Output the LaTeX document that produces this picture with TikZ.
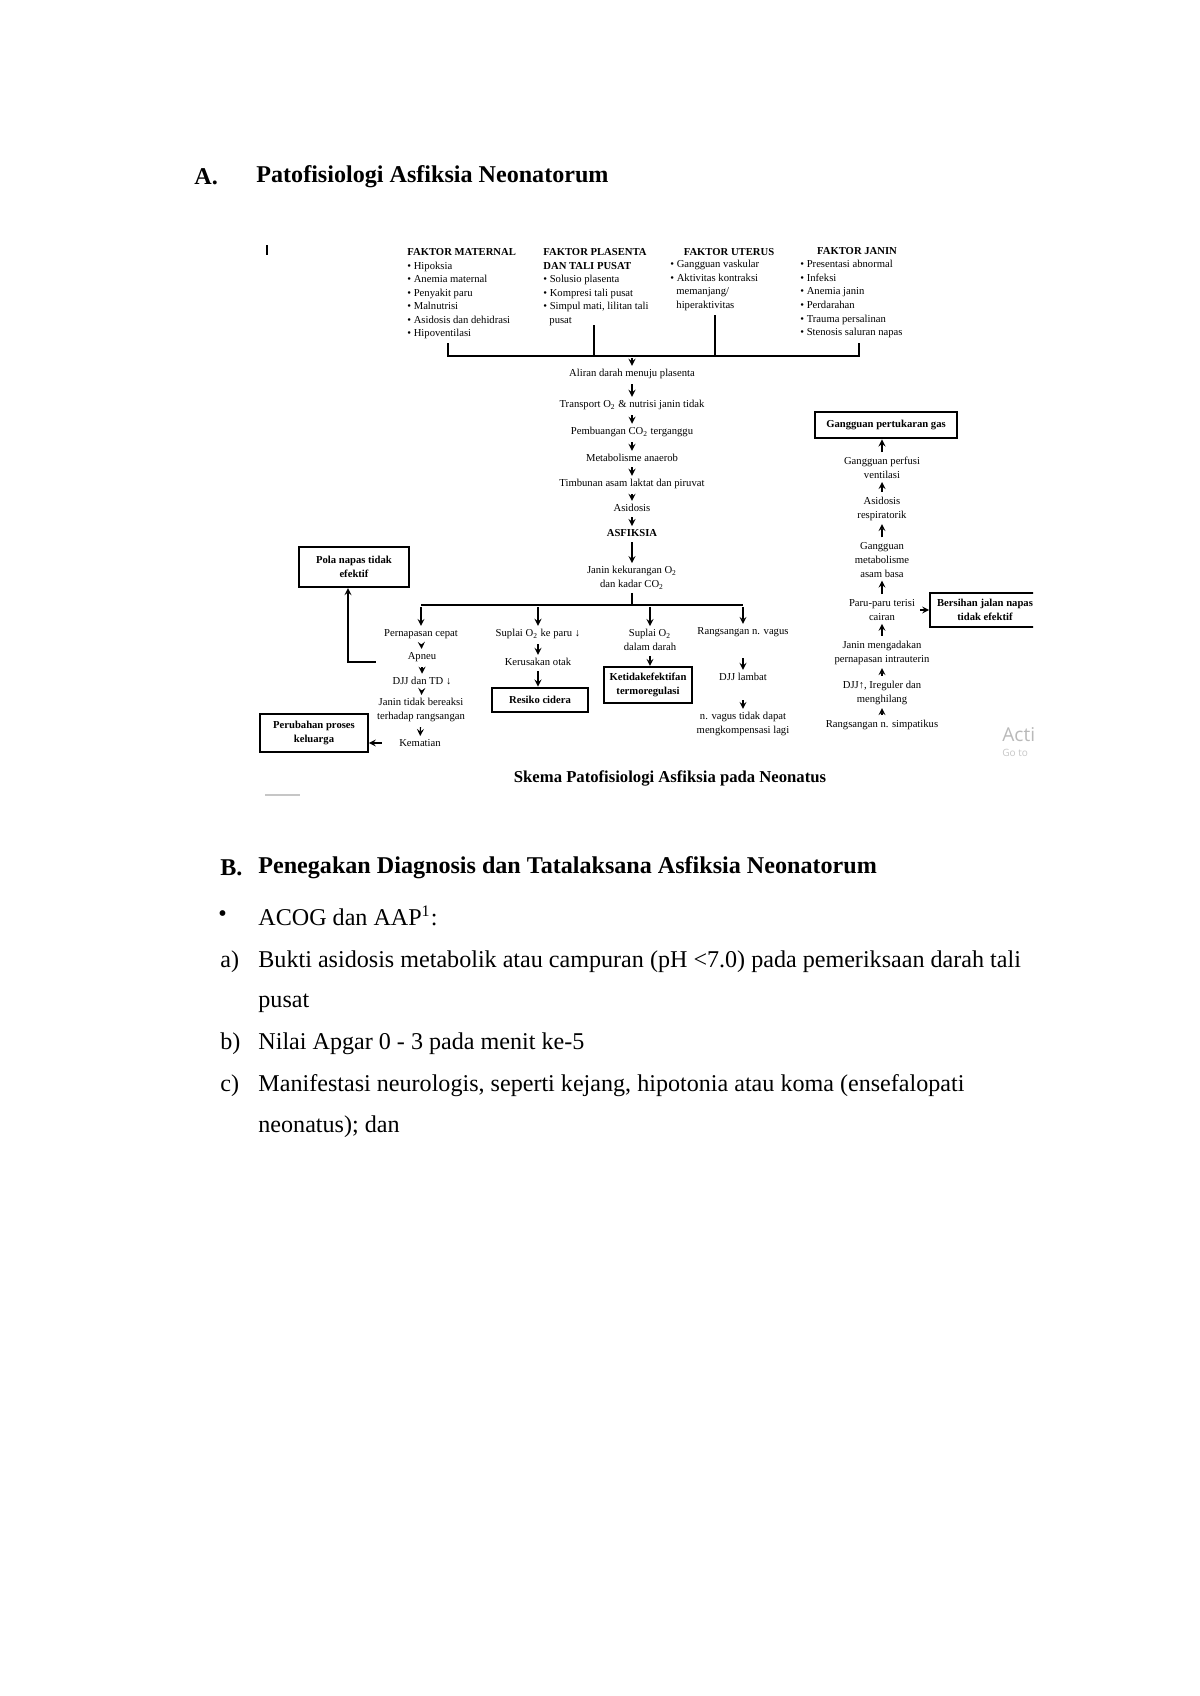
\documentclass[tikz,border=0pt]{standalone}
\usepackage{fontspec}
\setmainfont{Liberation Serif}
\newfontfamily\wmfont{Open Sans}
\usetikzlibrary{arrows,positioning}
\newcommand{\diagfont}{\fontsize{5.3}{6.75}\selectfont}
\newcommand{\bodyfont}{\fontsize{12}{14}\selectfont}
\tikzstyle{flow} = [->,>=stealth,line width=0.55pt,shorten <=1pt]
\tikzstyle{wire} = [line width=0.7pt]
\tikzstyle{txt} = [align=center, font=\diagfont, inner sep=1.5pt]
\tikzstyle{faktor} = [align=left, font=\diagfont, inner sep=0pt, anchor=north west]
\tikzstyle{ketbox} = [rectangle, draw, line width=1pt, align=center, font=\diagfont\bfseries, inner sep=2pt]
\tikzstyle{body} = [anchor=west, inner sep=0pt, font=\bodyfont]

\begin{document}
\begin{tikzpicture}[x=0.175mm, y=-0.175mm]
\useasboundingbox (0,0) rectangle (1200,1696);

% judul bagian A
\node[body, font=\bodyfont\bfseries] (secA) at (194,177) {A.};
\node[body, font=\bodyfont\bfseries] (titleA) at (256,177) {Patofisiologi Asfiksia Neonatorum};

% tanda kecil di pojok
\draw[line width=1.1pt] (267,245) -- (267,255);

% faktor penyebab
\node[faktor] (maternal) at (407,248) {\textbf{FAKTOR MATERNAL}\\
  \textbullet{} Hipoksia\\ \textbullet{} Anemia maternal\\ \textbullet{} Penyakit paru\\
  \textbullet{} Malnutrisi\\ \textbullet{} Asidosis dan dehidrasi\\ \textbullet{} Hipoventilasi};
\node[faktor] (plasenta) at (543,248) {\textbf{FAKTOR PLASENTA}\\ \textbf{DAN TALI PUSAT}\\
  \textbullet{} Solusio plasenta\\ \textbullet{} Kompresi tali pusat\\
  \textbullet{} Simpul mati, lilitan tali\\ \hspace*{3pt}pusat};
\node[txt, font=\diagfont\bfseries] (uterushead) at (729,252) {FAKTOR UTERUS};
\node[faktor] (uterus) at (670,260) {\textbullet{} Gangguan vaskular\\ \textbullet{} Aktivitas kontraksi\\
  \hspace*{3pt}memanjang/\\ \hspace*{3pt}hiperaktivitas};
\node[txt, font=\diagfont\bfseries] (janinhead) at (857,251) {FAKTOR JANIN};
\node[faktor] (janin) at (800,260) {\textbullet{} Presentasi abnormal\\ \textbullet{} Infeksi\\
  \textbullet{} Anemia janin\\ \textbullet{} Perdarahan\\ \textbullet{} Trauma persalinan\\
  \textbullet{} Stenosis saluran napas};

% penggabung faktor
\coordinate (m1) at (448,343);
\coordinate (p1) at (594,325);
\coordinate (u1) at (715,315);
\coordinate (j1) at (859,343);
\coordinate (bus) at (632,356);
\draw[wire] (m1) |- (bus) -| (j1);
\draw[wire] (p1) -- (p1 |- bus);
\draw[wire] (u1) -- (u1 |- bus);

% alur utama
\node[txt] (aliran) at (632,374) {Aliran darah menuju plasenta};
\node[txt] (transport) at (632,405) {Transport O\textsubscript{2} \& nutrisi janin tidak};
\node[txt] (pembuangan) at (632,432) {Pembuangan CO\textsubscript{2} terganggu};
\node[txt] (anaerob) at (632,458) {Metabolisme anaerob};
\node[txt] (timbunan) at (632,484) {Timbunan asam laktat dan piruvat};
\node[txt] (asidosis) at (632,508) {Asidosis};
\node[txt, font=\diagfont\bfseries] (asfiksia) at (632,533) {ASFIKSIA};
\node[txt] (kurang) at (632,578) {Janin kekurangan O\textsubscript{2}\\dan kadar CO\textsubscript{2}};

\draw[flow] (bus) -- (aliran);
\draw[flow] (aliran) -- (transport);
\draw[flow] (transport) -- (pembuangan);
\draw[flow] (pembuangan) -- (anaerob);
\draw[flow] (anaerob) -- (timbunan);
\draw[flow] (timbunan) -- (asidosis);
\draw[flow] (asidosis) -- (asfiksia);
\draw[flow] (asfiksia) -- (kurang);

% cabang
\node[txt] (cepat) at (421,634) {Pernapasan cepat};
\node[txt] (suplaiparu) at (538,634) {Suplai O\textsubscript{2} ke paru ↓};
\node[txt] (suplaidarah) at (650,640) {Suplai O\textsubscript{2}\\dalam darah};
\node[txt] (vagus) at (743,632) {Rangsangan n. vagus};

\coordinate (split) at (632,605);
\draw[wire] (kurang) -- (split);
\draw[wire] (cepat |- split) -- (vagus |- split);
\foreach \n in {cepat,suplaiparu,suplaidarah,vagus}
  \draw[flow] (\n |- split) -- (\n);

% cabang kiri
\node[txt] (apneu) at (422,657) {Apneu};
\node[txt] (djjtd) at (422,681) {DJJ dan TD ↓};
\node[txt] (bereaksi) at (421,710) {Janin tidak bereaksi\\terhadap rangsangan};
\node[txt] (kematian) at (420,743) {Kematian};
\node[ketbox, minimum width=55pt, minimum height=20pt] (pola) at (354,567) {Pola napas tidak\\efektif};
\node[ketbox, minimum width=53.6pt, minimum height=18.8pt] (keluarga) at (314,733) {Perubahan proses\\keluarga};

\draw[flow] (cepat) -- (apneu);
\draw[flow] (apneu) -- (djjtd);
\draw[flow] (djjtd) -- (bereaksi);
\draw[flow] (bereaksi) -- (kematian);
\coordinate (apneuend) at (378,662);
\draw[flow] (apneuend) -| ([xshift=-3pt]pola.south);
\draw[flow, shorten <=7pt] (kematian.west) -- (kematian.west -| keluarga.east);

% cabang tengah
\node[txt] (otak) at (538,662) {Kerusakan otak};
\node[ketbox, minimum width=48pt, minimum height=12.4pt] (cidera) at (540,700) {Resiko cidera};
\node[ketbox, minimum width=44pt, minimum height=18pt] (termo) at (648,685) {Ketidakefektifan\\termoregulasi};
\draw[flow] (suplaiparu) -- (otak);
\draw[flow] (otak) -- (otak |- cidera.north);
\draw[flow] (suplaidarah) -- (suplaidarah |- termo.north);

% cabang vagus
\node[txt] (lambat) at (743,677) {DJJ lambat};
\node[txt] (kompensasi) at (743,724) {n. vagus tidak dapat\\mengkompensasi lagi};
\draw[flow, shorten <=9pt] (vagus) -- (lambat);
\draw[flow, shorten <=8pt] (lambat) -- (kompensasi);

% kolom kanan
\node[ketbox, minimum width=70.4pt, minimum height=13.4pt] (gas) at (886,425) {Gangguan pertukaran gas};
\node[txt] (perfusi) at (882,468) {Gangguan perfusi\\ventilasi};
\node[txt] (resp) at (882,509) {Asidosis\\respiratorik};
\node[txt] (asambasa) at (882,560) {Gangguan\\metabolisme\\asam basa};
\node[txt] (paru) at (882,610) {Paru-paru terisi\\cairan};
\node[txt] (intra) at (882,653) {Janin mengadakan\\pernapasan intrauterin};
\node[txt] (djjup) at (882,693) {DJJ↑, Ireguler dan\\menghilang};
\node[txt] (simpatikus) at (882,725) {Rangsangan n. simpatikus};

\draw[flow] (simpatikus) -- (djjup);
\draw[flow] (djjup) -- (intra);
\draw[flow] (intra) -- (paru);
\draw[flow] (paru) -- (asambasa);
\draw[flow] (asambasa) -- (resp);
\draw[flow] (resp) -- (perfusi);
\draw[flow] (perfusi) -- (perfusi |- gas.south);

\begin{scope}
\clip (0,0) rectangle (1033,1696);
\node[ketbox, minimum width=54.6pt, minimum height=17.4pt] (bersihan) at (985,610) {Bersihan jalan napas\\tidak efektif};
\draw[flow] (paru.east) -- (paru.east -| bersihan.west);
\node[anchor=west, inner sep=0pt, text=gray!55, font=\wmfont\fontsize{9.5}{10}\selectfont] (acti) at (1002,735) {Activate};
\node[anchor=west, inner sep=0pt, text=gray!45, font=\wmfont\fontsize{5}{6}\selectfont] (goto) at (1002,753) {Go to};
\end{scope}

% keterangan skema
\node[inner sep=0pt, font=\fontsize{8.3}{9}\selectfont\bfseries] (caption) at (670,778) {Skema Patofisiologi Asfiksia pada Neonatus};
\draw[gray!45, line width=1pt] (265,795) -- (300,795);

% bagian B
\node[body, font=\bodyfont\bfseries] (secB) at (220,868) {B.};
\node[body, font=\bodyfont\bfseries] (titleB) at (258,868) {Penegakan Diagnosis dan Tatalaksana Asfiksia Neonatorum};
\node[body] (dot) at (218,916) {\textbullet};
\node[body] (acog) at (258,916) {ACOG dan AAP\textsuperscript{1}:};
\node[body] (la) at (220,962) {a)};
\node[body] (ta) at (258,962) {Bukti asidosis metabolik atau campuran (pH <7.0) pada pemeriksaan darah tali};
\node[body] (ta2) at (258,1003) {pusat};
\node[body] (lb) at (220,1044) {b)};
\node[body] (tb) at (258,1044) {Nilai Apgar 0 - 3 pada menit ke-5};
\node[body] (lc) at (220,1086) {c)};
\node[body] (tc) at (258,1086) {Manifestasi neurologis, seperti kejang, hipotonia atau koma (ensefalopati};
\node[body] (tc2) at (258,1127) {neonatus); dan};
\end{tikzpicture}
\end{document}
